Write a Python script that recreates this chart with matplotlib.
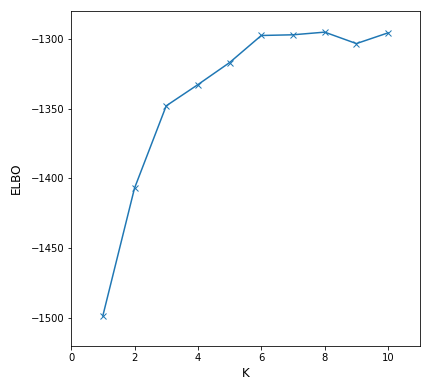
import matplotlib
matplotlib.use("Agg")
import matplotlib.pyplot as plt

# valores
K = [1, 2, 3, 4, 5, 6, 7, 8, 9, 10]
elbo = [-1498.5, -1407.0, -1348.0, -1332.8, -1317.0, -1297.6, -1297.1, -1295.2, -1303.4, -1295.7]

fig = plt.figure(figsize=(431 / 72, 390 / 72), dpi=72)
ax = fig.add_axes([0.165, 0.113, 0.809, 0.859])

ax.plot(K, elbo, marker="x", color="C0")
ax.set_xlim(0, 11)
ax.set_ylim(-1520, -1280)
ax.set_xticks([0, 2, 4, 6, 8, 10])
ax.set_yticks([-1500, -1450, -1400, -1350, -1300])
ax.set_xlabel("K", fontsize=12)
ax.set_ylabel("ELBO", fontsize=12, labelpad=8)

fig.savefig("out.png", dpi=72)
